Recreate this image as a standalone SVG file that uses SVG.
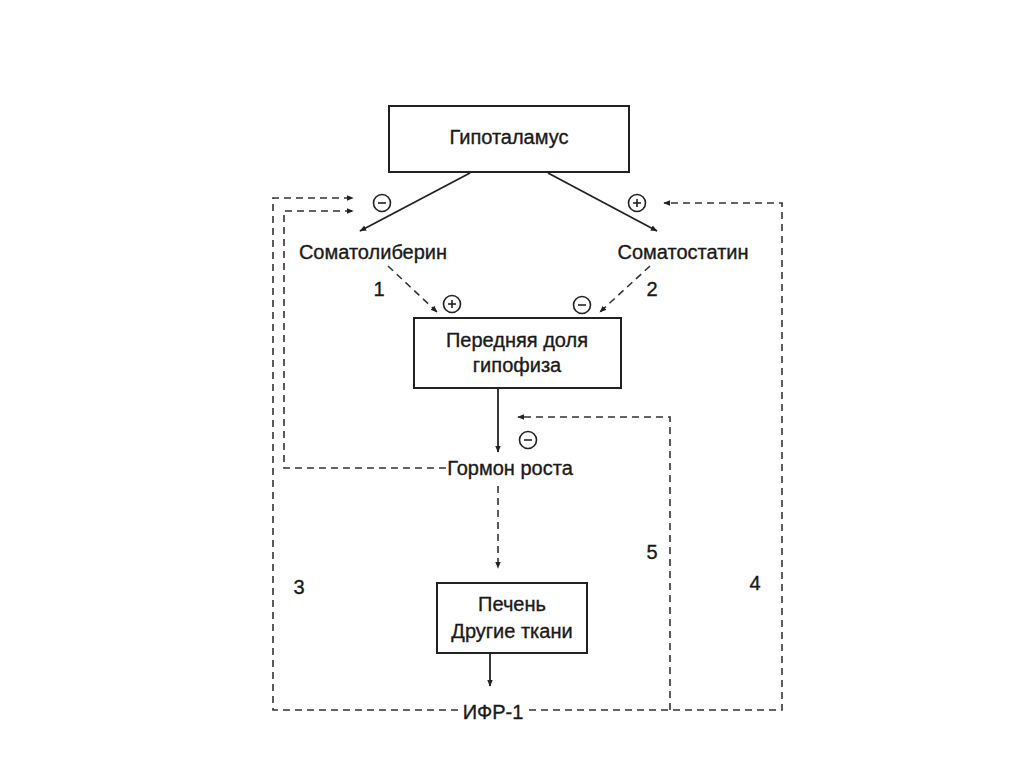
<svg xmlns="http://www.w3.org/2000/svg" width="1024" height="767" viewBox="0 0 1024 767">
<defs>
<marker id="ah" viewBox="0 0 10 10" refX="9" refY="5" markerWidth="7" markerHeight="7" orient="auto" markerUnits="userSpaceOnUse">
<path d="M0,1 L10,5 L0,9 Z" fill="#222"/>
</marker>
<style>
.box{fill:#fff;stroke:#222;stroke-width:2}
.t{font-family:"Liberation Sans",Arial,sans-serif;font-size:20px;fill:#1a1a1a;stroke:#1a1a1a;stroke-width:0.35;text-anchor:middle}
.s{fill:none;stroke:#222;stroke-width:1.8}
.d{fill:none;stroke:#333;stroke-width:1.6;stroke-dasharray:7,5}
.c{fill:#fff;stroke:#222;stroke-width:1.6}
.sg{stroke:#222;stroke-width:1.6}
</style>
</defs>
<rect width="1024" height="767" fill="#fff"/>

<g id="hypothalamus">
<rect class="box" x="389" y="106" width="240" height="66"/>
<text class="t" x="509" y="144">Гипоталамус</text>
</g>
<g id="somatoliberin">
<text class="t" x="373" y="259">Соматолиберин</text>
</g>
<g id="somatostatin">
<text class="t" x="683" y="259">Соматостатин</text>
</g>
<g id="pituitary">
<rect class="box" x="414" y="318" width="207" height="70"/>
<text class="t" x="517" y="347">Передняя доля</text>
<text class="t" x="517" y="372">гипофиза</text>
</g>
<g id="growth-hormone">
<text class="t" x="510" y="475">Гормон роста</text>
</g>
<g id="liver">
<rect class="box" x="437" y="583" width="150" height="70"/>
<text class="t" x="512" y="611">Печень</text>
<text class="t" x="512" y="638">Другие ткани</text>
</g>
<g id="igf1">
<text class="t" x="493" y="719">ИФР-1</text>
</g>

<g id="connectors">
<line class="s" x1="470" y1="173" x2="360" y2="231" marker-end="url(#ah)"/>
<line class="s" x1="548" y1="173" x2="657" y2="231" marker-end="url(#ah)"/>
<line class="d" x1="388" y1="266" x2="437" y2="312" marker-end="url(#ah)"/>
<line class="d" x1="650" y1="266" x2="600" y2="312" marker-end="url(#ah)"/>
<line class="s" x1="498" y1="389" x2="498" y2="452" marker-end="url(#ah)"/>
<line class="d" x1="498" y1="486" x2="498" y2="568" marker-end="url(#ah)"/>
<line class="s" x1="490" y1="654" x2="490" y2="686" marker-end="url(#ah)"/>
<polyline class="d" points="458,710 273,710 273,198 353,198" marker-end="url(#ah)"/>
<polyline class="d" points="446,468 284,468 284,211 353,211" marker-end="url(#ah)"/>
<polyline class="d" points="529,710 782,710 782,203 664,203" marker-end="url(#ah)"/>
<polyline class="d" points="670,710 670,417 518,417" marker-end="url(#ah)"/>
</g>

<g id="signs">
<circle class="c" cx="382" cy="203" r="8.5"/><line class="sg" x1="378" y1="203" x2="386" y2="203"/>
<circle class="c" cx="637" cy="203" r="8.5"/><line class="sg" x1="633" y1="203" x2="641" y2="203"/><line class="sg" x1="637" y1="199" x2="637" y2="207"/>
<circle class="c" cx="452" cy="304" r="8.5"/><line class="sg" x1="448" y1="304" x2="456" y2="304"/><line class="sg" x1="452" y1="300" x2="452" y2="308"/>
<circle class="c" cx="582" cy="305" r="8.5"/><line class="sg" x1="578" y1="305" x2="586" y2="305"/>
<circle class="c" cx="528" cy="440" r="8.5"/><line class="sg" x1="524" y1="440" x2="532" y2="440"/>
</g>

<g id="labels">
<text class="t" x="379" y="296">1</text>
<text class="t" x="652" y="296">2</text>
<text class="t" x="299" y="594">3</text>
<text class="t" x="755" y="590">4</text>
<text class="t" x="652" y="559">5</text>
</g>
</svg>
